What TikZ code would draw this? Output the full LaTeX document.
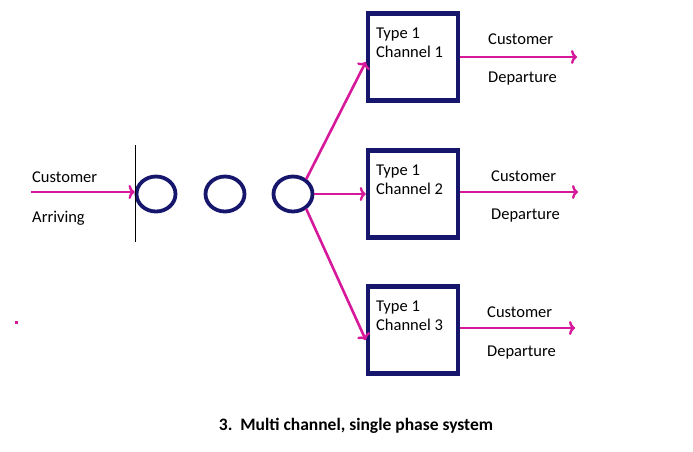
\documentclass[tikz,border=0pt]{standalone}
\usepackage{fontspec}
\setmainfont{Carlito}
\definecolor{navy}{RGB}{22,22,108}
\definecolor{pinkline}{RGB}{214,24,155}
\usetikzlibrary{shapes.geometric,arrows.meta}
\tikzset{
  x=1pt, y=-1pt,
  chanbox/.style={draw=navy, line width=4.5pt, minimum width=90pt, minimum height=87pt, inner sep=0pt},
  qcirc/.style={draw=navy, line width=3.8pt, ellipse, minimum width=39pt, minimum height=35pt, inner sep=0pt},
  flow/.style={draw=pinkline, line width=2.6pt, -{To[length=6pt,width=14pt,line width=2.4pt]}},
  lbl/.style={font=\fontsize{16.5}{19}\selectfont, anchor=west, inner sep=0pt},
  captext/.style={font=\bfseries\fontsize{17.5}{20}\selectfont, inner sep=0pt}
}
\begin{document}
\begin{tikzpicture}
\useasboundingbox (0,0) rectangle (693,451);
% boxes
\node[chanbox] (b1) at (413,57) {};
\node[chanbox] (b2) at (413,194) {};
\node[chanbox] (b3) at (413,330) {};
\node[lbl, anchor=north west] (t1) at (376,25) {\begin{tabular}{@{}l@{}}Type 1\\Channel 1\end{tabular}};
\node[lbl, anchor=north west] (t2) at (376,162) {\begin{tabular}{@{}l@{}}Type 1\\Channel 2\end{tabular}};
\node[lbl, anchor=north west] (t3) at (376,298) {\begin{tabular}{@{}l@{}}Type 1\\Channel 3\end{tabular}};
% circles
\node[qcirc] (c1) at (156,194) {};
\node[qcirc] (c2) at (225,194) {};
\node[qcirc] (c3) at (293,194) {};
% vertical bar
\coordinate (vtop) at (135,145);
\coordinate (vbot) at (135,242);
\draw[line width=1pt] (vtop) -- (vbot);
% arrival
\coordinate (arrS) at (31,192);
\draw[flow] (arrS) -- (c1.west |- arrS);
\node[lbl] (cin) at (32,177) {Customer};
\node[lbl] (ain) at (32,218) {Arriving};
% branches
\draw[flow] (c3.north east) ++(-2,-1) coordinate (o1) -- (b1.west |- 0,62);
\draw[flow] (c3.east) -- (b2.west);
\draw[flow] (c3.south east) ++(-2,1) coordinate (o3) -- (b3.west |- 0,340);
% departures
\coordinate (e1) at (577,57);
\coordinate (e2) at (578,192);
\coordinate (e3) at (575,328);
\draw[flow] (b1.east |- e1) -- (e1);
\draw[flow] (b2.east |- e2) -- (e2);
\draw[flow] (b3.east |- e3) -- (e3);
\node[lbl] (d1a) at (488,39) {Customer};
\node[lbl] (d1b) at (488,79) {Departure};
\node[lbl] (d2a) at (491,176) {Customer};
\node[lbl] (d2b) at (491,216) {Departure};
\node[lbl] (d3a) at (487,312) {Customer};
\node[lbl] (d3b) at (487,353) {Departure};
% dot
\fill[pinkline] (14.5,320.5) rectangle (17.5,323.5);
% caption
\node[captext] (title) at (356,426) {3.\ \ Multi channel, single phase system};
\end{tikzpicture}
\end{document}
